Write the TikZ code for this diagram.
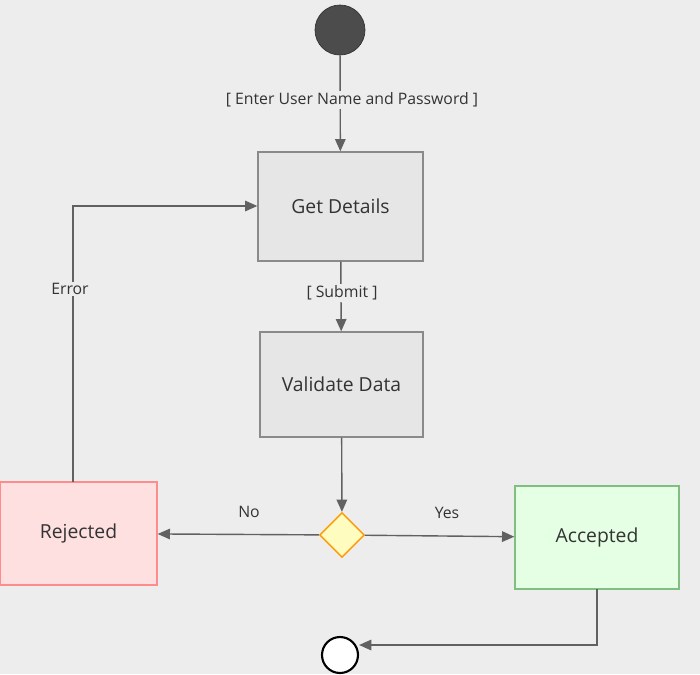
\documentclass[tikz,border=0pt]{standalone}
\usepackage{fontspec}
\setmainfont{Open Sans}
\usetikzlibrary{arrows.meta,shapes.geometric}
\definecolor{bg}{HTML}{EDEDED}
\definecolor{boxfill}{HTML}{E6E6E6}
\definecolor{boxline}{HTML}{8A8A8A}
\definecolor{txt}{HTML}{333333}
\tikzset{
 px/.style={x=0.02cm,y=-0.02cm},
 actbox/.style={draw=boxline,fill=boxfill,minimum width=3.3cm,minimum height=2.12cm,text=txt,font=\fontsize{11}{13}\selectfont,line width=0.8pt},
 conn/.style={draw=boxline!70!black,line width=0.8pt,-{Triangle[length=7pt,width=6pt]}},
 lbl/.style={text=txt,font=\fontsize{9}{11}\selectfont},
}
\begin{document}
\begin{tikzpicture}[px]
\fill[bg] (0,0) rectangle (700,674);
\useasboundingbox (0,0) rectangle (700,674);
\node[circle,fill=black!70,draw=black!80,minimum size=1cm,inner sep=0] (start) at (340,30) {};
\node[actbox,minimum width=3.3cm,minimum height=2.18cm] (get) at (340.5,206.5) {Get Details};
\node[actbox,minimum width=3.26cm,minimum height=2.1cm] (val) at (341.5,384.5) {Validate Data};
\node[diamond,draw=orange!80!yellow,fill=yellow!25,line width=0.8pt,minimum size=0.9cm,inner sep=0] (dec) at (342,535) {};
\node[actbox,draw=red!45,fill=red!12,minimum width=3.14cm,minimum height=2.06cm] (rej) at (78.5,533.5) {Rejected};
\node[actbox,draw=green!50!black!50,fill=green!10,minimum width=3.28cm,minimum height=2.06cm] (acc) at (597,537.5) {Accepted};
\node[circle,draw=black,fill=white,line width=1.2pt,minimum size=0.72cm,inner sep=0] (end) at (340,655) {};
\coordinate (rejtop) at (73,482);
\coordinate (c1) at (73,206);
\coordinate (accb) at (597,589);
\coordinate (c2) at (597,645);
\draw[conn] (start) -- (get);
\draw[conn] (get) -- (val);
\draw[conn] (val) -- (dec);
\draw[conn] (dec) -- (rej);
\draw[conn] (dec) -- (acc);
\draw[conn] (rejtop) -- (c1) -- (get.west |- c1);
\draw[conn] (accb) -- (c2) -- (end.east |- c2);
\node[lbl,fill=bg,inner sep=1pt] at (352,100) {[ Enter User Name and Password ]};
\node[lbl,fill=bg,inner sep=1pt] at (342,293) {[ Submit ]};
\node[lbl,fill=bg,inner sep=1pt] at (70,289) {Error};
\node[lbl] at (249,512) {No};
\node[lbl] at (447,513) {Yes};
\end{tikzpicture}
\end{document}
